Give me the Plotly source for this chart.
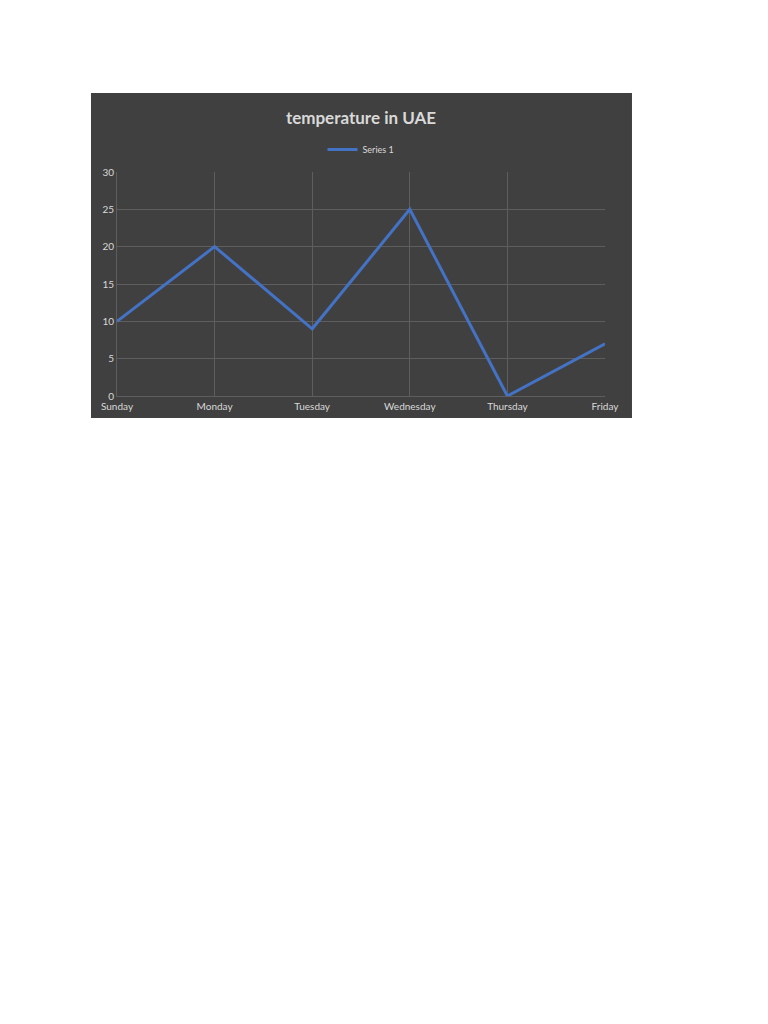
import plotly.graph_objects as go

days = ["Sunday", "Monday", "Tuesday", "Wednesday", "Thursday", "Friday"]
temps = [10, 20, 9, 25, 0, 7]

bg = "#404040"
grid = "#5e5e5e"
txt = "#d9d9d9"

fig = go.Figure()
fig.add_trace(go.Scatter(
    x=days, y=temps,
    mode="lines",
    name="Series 1",
    line=dict(color="#4472C4", width=3),
))

# dark chart box around the plot area (paper coords go past 0..1)
fig.add_shape(
    type="rect", xref="paper", yref="paper",
    x0=-0.0533, x1=1.0553, y0=-0.0982, y1=1.3527,
    fillcolor=bg, line=dict(width=0), layer="below",
)

fig.update_xaxes(
    type="category", range=[0, 5],
    showgrid=True, gridcolor=grid, gridwidth=1,
    showline=True, linecolor=grid,
    ticks="", ticklabelstandoff=1,
    tickfont=dict(size=10, color=txt, family="Lato"),
    zeroline=False,
)
fig.update_yaxes(
    range=[0, 30], dtick=5,
    showgrid=True, gridcolor=grid, gridwidth=1,
    showline=True, linecolor=grid,
    ticks="", tickfont=dict(size=10, color=txt, family="Lato"),
    zeroline=False,
)

fig.update_layout(
    width=768, height=1024,
    margin=dict(l=109, r=171, t=164, b=636),
    paper_bgcolor="white",
    plot_bgcolor="rgba(0,0,0,0)",
    title=dict(
        text="<b>temperature in UAE</b>",
        x=0.5, xanchor="center", xref="paper",
        y=1 - 110 / 1024, yanchor="middle",
        font=dict(size=17, color=txt, family="Lato"),
    ),
    showlegend=True,
    legend=dict(
        orientation="h", x=0.5, xanchor="center",
        y=1.1, yanchor="middle",
        font=dict(size=9, color=txt, family="Lato"),
        bgcolor="rgba(0,0,0,0)",
    ),
)

fig.write_html("out.html")
